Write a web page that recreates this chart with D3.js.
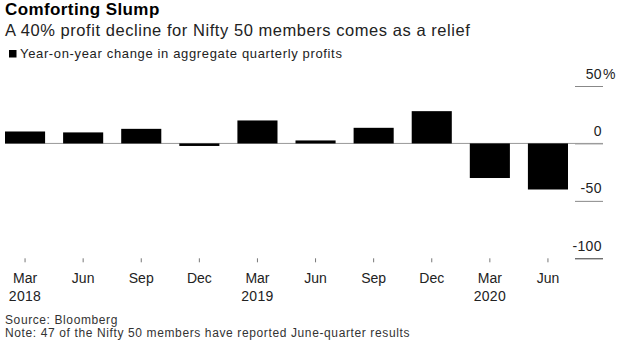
<!DOCTYPE html>
<html>
<head>
<meta charset="utf-8">
<script src="https://cdn.jsdelivr.net/npm/d3@7"></script>
<style>
  html, body { margin: 0; padding: 0; background: #fff; }
  svg { display: block; font-family: "Liberation Sans", Arial, Helvetica, sans-serif; }
</style>
</head>
<body>
<svg id="chart" width="620" height="343"></svg>
<script>
// ---- Data ----
const quarters = ["Mar 2018", "Jun 2018", "Sep 2018", "Dec 2018", "Mar 2019", "Jun 2019", "Sep 2019", "Dec 2019", "Mar 2020", "Jun 2020"];
const monthLabels = ["Mar", "Jun", "Sep", "Dec", "Mar", "Jun", "Sep", "Dec", "Mar", "Jun"];
const yearLabels = ["2018", "", "", "", "2019", "", "", "", "2020", ""];
const profitChange = [10.4, 9.6, 12.7, -2.2, 20.0, 2.6, 13.6, 28.1, -30.1, -40.1];
const yTicks = [50, 0, -50, -100];
const yTickLabels = ["50", "0", "-50", "-100"];
const yTickSuffix = ["%", "", "", ""];

const title = "Comforting Slump";
const subtitle = "A 40% profit decline for Nifty 50 members comes as a relief";
const legendLabel = "Year-on-year change in aggregate quarterly profits";
const source = "Source: Bloomberg";
const note = "Note: 47 of the Nifty 50 members have reported June-quarter results";

// ---- Layout ----
const svg = d3.select("#chart");

const x = d3.scaleBand()
  .domain(quarters)
  .range([-4, 577])
  .paddingInner(0.31)
  .paddingOuter(0.155);

const y = d3.scaleLinear()
  .domain([-100, 50])
  .range([258.3, 86]);

// Title block
svg.append("text").attr("x", 5).attr("y", 15)
  .attr("font-size", 17).attr("font-weight", "bold").attr("fill", "#000")
  .attr("letter-spacing", 0.4)
  .text(title);
svg.append("text").attr("x", 5).attr("y", 36)
  .attr("font-size", 16.5).attr("fill", "#222")
  .attr("letter-spacing", 0.55)
  .text(subtitle);

// Legend
svg.append("rect").attr("x", 9).attr("y", 50).attr("width", 7.5).attr("height", 7.5).attr("fill", "#000");
svg.append("text").attr("x", 20).attr("y", 57.5)
  .attr("font-size", 13).attr("fill", "#222")
  .attr("letter-spacing", 0.65)
  .text(legendLabel);

// Zero line
svg.append("line")
  .attr("x1", 5).attr("x2", 603)
  .attr("y1", y(0)).attr("y2", y(0))
  .attr("stroke", "#999").attr("stroke-width", 1);

// Bars
svg.append("g").selectAll("rect")
  .data(quarters.map((q, i) => ({ q, v: profitChange[i] })))
  .join("rect")
  .attr("x", d => x(d.q))
  .attr("width", x.bandwidth())
  .attr("y", d => y(Math.max(0, d.v)))
  .attr("height", d => Math.abs(y(d.v) - y(0)))
  .attr("fill", "#000");

// Y axis (right)
const yAxis = d3.axisRight(y)
  .tickValues(yTicks)
  .tickSize(28)
  .tickFormat((d, i) => yTickLabels[i]);
const yg = svg.append("g").attr("transform", "translate(575,0)").call(yAxis);
yg.select(".domain").remove();
yg.selectAll(".tick line")
  .attr("stroke", d => d === -100 ? "#333" : (d === 0 ? "#999" : "#888"))
  .attr("stroke-width", 1);
yg.selectAll(".tick text")
  .attr("x", 27).attr("dy", 0).attr("y", -8)
  .attr("text-anchor", "end")
  .attr("font-size", 14)
  .attr("letter-spacing", 0.4)
  .attr("font-family", "Liberation Sans, Arial, sans-serif")
  .attr("fill", "#222");
yg.selectAll(".tick").each(function (d, i) {
  if (yTickSuffix[i]) {
    d3.select(this).append("text")
      .attr("x", 28).attr("y", -8)
      .attr("text-anchor", "start")
      .attr("font-size", 14)
      .attr("font-family", "Liberation Sans, Arial, sans-serif")
      .attr("fill", "#222")
      .text(yTickSuffix[i]);
  }
});

// X axis
const xAxis = d3.axisBottom(x).tickSize(4).tickFormat("");
const xg = svg.append("g").attr("transform", "translate(0,258.3)").call(xAxis);
xg.select(".domain").remove();
xg.selectAll(".tick line").attr("stroke", "#777");

const labels = svg.append("g");
labels.selectAll("text.month")
  .data(quarters)
  .join("text")
  .attr("class", "month")
  .attr("x", d => x(d) + x.bandwidth() / 2)
  .attr("y", 283.3)
  .attr("text-anchor", "middle")
  .attr("font-size", 14)
  .attr("fill", "#222")
  .text((d, i) => monthLabels[i]);
labels.selectAll("text.year")
  .data(quarters.filter((d, i) => yearLabels[i] !== ""))
  .join("text")
  .attr("class", "year")
  .attr("x", d => x(d) + x.bandwidth() / 2)
  .attr("y", 300.7)
  .attr("text-anchor", "middle")
  .attr("font-size", 14)
  .attr("letter-spacing", 0.3)
  .attr("fill", "#222")
  .text(d => yearLabels[quarters.indexOf(d)]);

// Footer
svg.append("text").attr("x", 5).attr("y", 324)
  .attr("font-size", 12).attr("letter-spacing", 0.6).attr("fill", "#333").text(source);
svg.append("text").attr("x", 5).attr("y", 337)
  .attr("font-size", 12).attr("letter-spacing", 0.62).attr("fill", "#333").text(note);
</script>
</body>
</html>
